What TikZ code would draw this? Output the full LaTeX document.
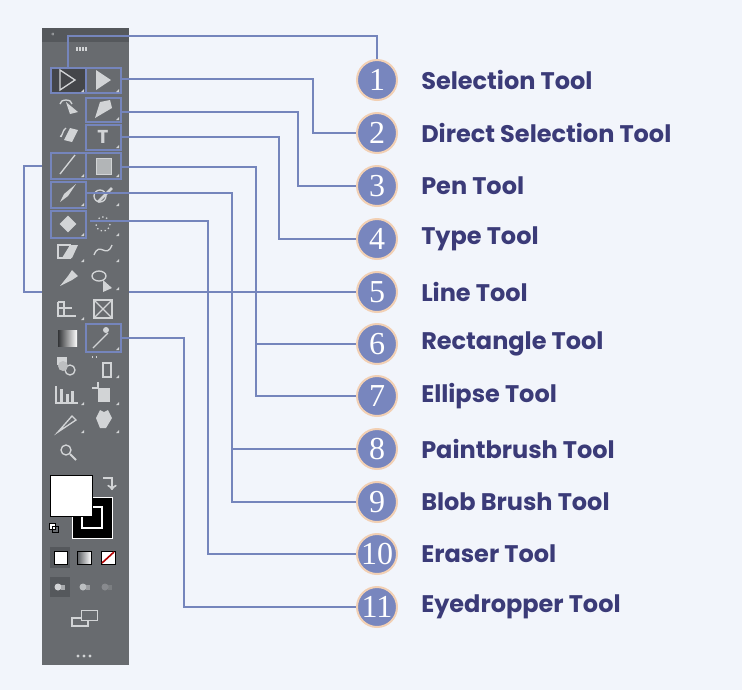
\documentclass[tikz,border=0pt]{standalone}
\usepackage{fontspec}
\setmainfont{Poppins}
\newfontfamily\numfont{Liberation Serif}
\begin{document}
\begin{tikzpicture}[x={(0.75pt,0)},y={(0,-0.75pt)},
  conn/.style={draw=lineblue,line width=1.5pt},
  hl/.style={draw=lineblue,line width=1.5pt},
  num/.style={circle,fill=circblue,draw=peach,line width=1.5pt,minimum size=30pt,inner sep=0pt,text=white,font=\numfont\fontsize{24}{24}\selectfont},
  lbl/.style={anchor=west,text=navy,font=\fontsize{18}{18}\selectfont\bfseries,inner sep=0pt},
  ic/.style={draw=icgray,line width=1pt}]
\definecolor{bg}{HTML}{F2F5FB}
\definecolor{lineblue}{HTML}{7585BC}
\definecolor{circblue}{HTML}{7886BE}
\definecolor{peach}{HTML}{F2D0B4}
\definecolor{navy}{HTML}{3B3B78}
\definecolor{panel}{HTML}{686B6F}
\definecolor{panelbar}{HTML}{55585C}
\definecolor{icgray}{HTML}{D2D4D6}
\fill[bg] (0,0) rectangle (742,690);
\useasboundingbox (0,0) rectangle (742,690);
% circles and labels
\foreach \i/\y/\t in {1/80/Selection Tool,2/133/Direct Selection Tool,3/186/Pen Tool,4/239/Type Tool,5/292/Line Tool,6/344/Rectangle Tool,7/396/Ellipse Tool,8/449/Paintbrush Tool,9/502/Blob Brush Tool,10/554/Eraser Tool,11/607/Eyedropper Tool}{
  \node[num] (c\i) at (377,\y) {\i};
  \node[lbl] (l\i) at (421,\y) {\t};
}
% connector 5 under panel
\coordinate (b5) at (51,166);
\draw[conn] (b5) -- (24,166) |- (c5.west);
% panel
\fill[panel] (42,28) rectangle (129,665);
\fill[panelbar] (42,28) rectangle (129,42);
\node[text=icgray,font=\tiny,inner sep=0pt] (chev) at (53,35) {<<};
\foreach \k in {0,...,7} \draw[icgray,line width=0.4pt] (76+\k*1.5,47) -- (76+\k*1.5,51);
% highlight boxes
\fill[panelbar!80!black] (51,68) rectangle (85,93);
\foreach \xa/\ya/\yb in {51/68/93,86/68/93,86/98/122,86/125/150,51/153/179,86/153/179,51/182/208,51/211/238,86/324/352}
  \draw[hl] (\xa,\ya) rectangle (\xa+35,\yb);
% icons
\draw[ic] (60,70) -- (75,80) -- (60,90) -- cycle;
\fill[icgray] (96,70) -- (111,80) -- (96,90) -- cycle;
\draw[ic] (60,104) arc (180:360:6 and 4); \fill[icgray] (66,102) -- (78,112) -- (70,114) -- cycle;
\fill[icgray] (95,118) -- (100,102) -- (110,100) -- (112,108) -- cycle;
\node[text=icgray,font=\bfseries\fontsize{14}{14}\selectfont,inner sep=0pt] at (103,137) {T};
\draw[ic] (60,136) to[out=-60,in=200] (66,128); \fill[icgray] (64,140) -- (70,128) -- (78,130) -- (72,142)--cycle;
\draw[ic] (60,174) -- (75,155);
\fill[icgray!70!panel,draw=icgray] (96,158) rectangle (111,174);
\fill[icgray] (60,202) -- (64,194) -- (76,184) -- (68,196) -- cycle;
\draw[ic] (100,196) circle (6); \draw[ic,line width=2pt] (98,202) -- (112,188);
\fill[icgray,rotate around={45:(68,224)}] (62,218) rectangle (74,230);
\draw[ic,dotted] (103,224) circle (7);
\draw[ic] (58,245) rectangle (70,258); \fill[icgray] (62,258) -- (70,245) -- (78,245) -- (72,258) -- cycle;
\draw[ic] (94,255) .. controls (100,240) and (106,260) .. (112,245);
\fill[icgray] (60,286) -- (68,276) -- (72,270) -- (78,276) -- (72,280) -- cycle;
\draw[ic] (99,276) ellipse (7 and 5); \fill[icgray] (103,280) -- (112,288) -- (103,292) -- cycle;
\draw[ic] (58,302) -- (58,316) -- (76,316); \draw[ic] (58,302) -- (64,302) -- (64,316); \draw[ic] (58,308) -- (72,308);
\draw[ic] (94,300) rectangle (112,318); \draw[ic] (94,300) -- (112,318); \draw[ic] (112,300) -- (94,318);
\shade[left color=panelbar!60!black,right color=white] (58,330) rectangle (77,346);
\draw[ic] (93,348) -- (108,333); \fill[icgray] (106,330) circle (3);
\fill[icgray] (57,357) rectangle (67,365); \draw[ic] (70,370) circle (5); \fill[icgray!80!panel] (63,366) circle (5);
\draw[ic] (103,363) rectangle (111,377); \draw[ic,dotted] (92,357) -- (100,357);
\draw[ic] (56,386) -- (56,403) -- (78,403); \foreach \h/\xx in {14/60,9/66,12/71}\fill[icgray] (\xx,403) rectangle ++(3,-\h);
\fill[icgray] (98,388) -- (110,388) -- (110,402) -- (98,402) -- cycle; \draw[ic] (92,388) -- (98,388) (98,382)--(98,388);
\draw[ic] (58,432) -- (72,416) -- (76,420) -- cycle;
\fill[icgray] (96,418) -- (100,410) -- (104,412) -- (108,410) -- (112,418) -- (106,428) -- (100,428) -- cycle;
\draw[ic] (66,450) circle (5); \draw[ic,line width=1.5pt] (70,454) -- (76,460);
% small triangles
\foreach \xx/\yy in {84/92,119/92,119/120,119/148,84/177,119/177,84/206,119/206,84/236,119/236,84/262,119/262,119/290,84/320,119/350,119/378,84/405,119/405,84/433,119/433}
  \fill[icgray] (\xx,\yy) -- (\xx,\yy-3) -- (\xx-3,\yy) -- cycle;
% colour swatches
\fill[black,draw=white] (72,497) rectangle (112,538);
\draw[white,line width=1pt] (82,507) rectangle (102,528);
\fill[white,draw=black] (50,475) rectangle (92,516);
\draw[icgray,line width=1.5pt,->] (103,478) -- (112,478) -- (112,490);
\fill[white,draw=black] (49,523) rectangle (55,529); \draw (52,526) rectangle (58,532);
\fill[panelbar] (50,547) rectangle (70,568);
\fill[white,draw=black] (54,551) rectangle (67,564);
\shade[left color=panelbar,right color=white,draw=black] (77,551) rectangle (91,564);
\fill[white,draw=black] (101,551) rectangle (115,564); \draw[red!70!black,line width=1.2pt] (102,563) -- (114,552);
\fill[panelbar] (50,577) rectangle (70,597);
\foreach \xx/\o in {60/1,85/0.8,107/0.3}{\fill[icgray,opacity=\o] (\xx-2,587) circle (3.5); \fill[icgray!60!panel,opacity=\o] (\xx+1,590) rectangle ++(4,-5);}
\draw[ic] (72,618) rectangle (88,626); \fill[panel,draw=icgray] (81,610) rectangle (97,620);
\foreach \xx in {78,84,90} \fill[icgray] (\xx,656) circle (1.6);
% connectors
\draw[conn] (68,68) -- (68,36) -| (c1.north);
\draw[conn] (121,79) -- (313,79) |- (c2.west);
\draw[conn] (121,112) -- (298,112) |- (c3.west);
\draw[conn] (121,137) -- (279,137) |- (c4.west);
\draw[conn] (121,167) -- (256,167) |- (c7.west);
\draw[conn] (256,344) -- (c6.west);
\draw[conn] (86,193) -- (232,193) |- (c9.west);
\draw[conn] (232,449) -- (c8.west);
\draw[conn] (90,221) -- (208,221) |- (c10.west);
\draw[conn] (121,338) -- (184,338) |- (c11.west);
\end{tikzpicture}
\end{document}
